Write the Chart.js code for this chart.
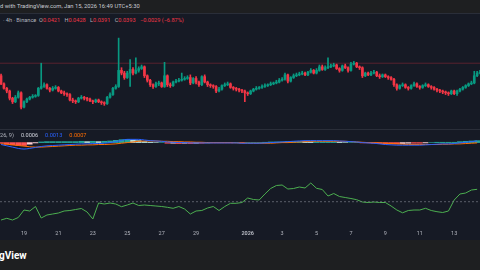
<!DOCTYPE html>
<html>
<head>
<meta charset="utf-8">
<script src="https://cdn.jsdelivr.net/npm/chart.js@4.4.1/dist/chart.umd.min.js"></script>
<style>
	html, body { margin: 0; padding: 0; }
	body { width: 480px; height: 270px; overflow: hidden; background: #161a25; position: relative; font-family: Roboto, "Noto Sans", sans-serif; }
	.abs { position: absolute; left: 0; white-space: nowrap; }
	#topbar { top: 0; width: 480px; height: 13px; background: #1e1f21; color: #c9cbd1; font-size: 5.8px; line-height: 13px; }
	.sep { position: absolute; left: 0; width: 480px; height: 1px; background: #2a2e39; }
	#legend { top: 15px; left: 3px; font-size: 5.6px; line-height: 11px; color: #b2b5be; }
	#legend .r { color: #f23645; margin-right: 3px; }
	#macdLegend { top: 130px; font-size: 5.6px; line-height: 10px; color: #b2b5be; }
	#macdLegend span { margin-left: 7px; }
	#bottombar { top: 240px; width: 480px; height: 30px; background: #1e1f21; }
	#logo { top: 249px; left: -1px; color: #ffffff; font-weight: bold; font-size: 10px; line-height: 13px; }
	canvas { position: absolute; left: 0; }
</style>
</head>
<body>
<div id="topbar" class="abs">d with TradingView.com, Jan 15, 2026 16:49 UTC+5:30</div>
<div class="sep" style="top:13px"></div>
<div id="legend" class="abs">· 4h · Binance &nbsp;O<span class="r">0.0421</span> H<span class="r">0.0428</span> L<span class="r">0.0391</span> C<span class="r">0.0393</span> <span class="r">−0.0029 (−6.87%)</span></div>
<canvas id="candles" width="480" height="116" style="top:13px"></canvas>
<div class="sep" style="top:129px"></div>
<canvas id="macd" width="480" height="34" style="top:129px"></canvas>
<div id="macdLegend" class="abs">26, 9)<span style="color:#d1d4dc">0.0006</span><span style="color:#2962ff">0.0013</span><span style="color:#ff6d00">0.0007</span></div>
<canvas id="rsi" width="480" height="77" style="top:163px"></canvas>
<div id="bottombar" class="abs"></div>
<div id="logo" class="abs">gView</div>
<script>
// 4h candles, index 0 = Dec 17 16:00, one step = one candle
const firstOpen = 0.0379;
const closes = [
	0.0370,0.0365,0.0362,0.0354,0.0350,0.0355,0.0360,0.0344,0.0350,0.0353,
	0.0355,0.0356,0.0357,0.0365,0.0367,0.0369,0.0365,0.0363,0.0365,0.0366,
	0.0362,0.0360,0.0359,0.0358,0.0352,0.0351,0.0350,0.0354,0.0355,0.0354,
	0.0353,0.0351,0.0350,0.0352,0.0350,0.0349,0.0348,0.0355,0.0358,0.0365,
	0.0367,0.0385,0.0382,0.0377,0.0382,0.0386,0.0382,0.0385,0.0387,0.0389,
	0.0379,0.0374,0.0369,0.0367,0.0370,0.0371,0.0367,0.0379,0.0369,0.0368,
	0.0372,0.0373,0.0374,0.0375,0.0376,0.0377,0.0371,0.0376,0.0372,0.0369,
	0.0378,0.0372,0.0369,0.0368,0.0367,0.0362,0.0364,0.0368,0.0369,0.0370,
	0.0366,0.0365,0.0364,0.0363,0.0362,0.0360,0.0359,0.0362,0.0364,0.0365,
	0.0366,0.0367,0.0368,0.0369,0.0370,0.0371,0.0372,0.0374,0.0375,0.0380,
	0.0373,0.0377,0.0379,0.0380,0.0381,0.0382,0.0380,0.0383,0.0385,0.0382,
	0.0385,0.0389,0.0386,0.0388,0.0389,0.0390,0.0391,0.0387,0.0385,0.0390,
	0.0388,0.0385,0.0392,0.0393,0.0389,0.0388,0.0379,0.0382,0.0380,0.0382,
	0.0383,0.0379,0.0378,0.0380,0.0378,0.0377,0.0375,0.0369,0.0365,0.0368,
	0.0369,0.0366,0.0365,0.0368,0.0370,0.0367,0.0366,0.0368,0.0369,0.0367,
	0.0366,0.0364,0.0363,0.0362,0.0361,0.0360,0.0359,0.0362,0.0359,0.0362,
	0.0364,0.0366,0.0368,0.0370,0.0371,0.0379,0.0382,0.0383
];
const highs = [
	0.0381,0.0371,0.0366,0.0363,0.0355,0.0357,0.0362,0.0361,0.0351,0.0354,
	0.0356,0.0358,0.0358,0.0366,0.0393,0.0371,0.0370,0.0366,0.0367,0.0368,
	0.0367,0.0363,0.0362,0.0360,0.0359,0.0354,0.0352,0.0355,0.0357,0.0356,
	0.0355,0.0354,0.0352,0.0353,0.0353,0.0351,0.0350,0.0356,0.0360,0.0366,
	0.0369,0.0421,0.0388,0.0384,0.0384,0.0397,0.0388,0.0399,0.0389,0.0391,
	0.0390,0.0380,0.0375,0.0370,0.0372,0.0373,0.0372,0.0394,0.0380,0.0371,
	0.0373,0.0375,0.0376,0.0382,0.0378,0.0379,0.0380,0.0377,0.0378,0.0373,
	0.0379,0.0380,0.0373,0.0370,0.0369,0.0368,0.0366,0.0369,0.0371,0.0372,
	0.0371,0.0367,0.0366,0.0365,0.0364,0.0363,0.0361,0.0363,0.0365,0.0367,
	0.0367,0.0369,0.0370,0.0370,0.0372,0.0372,0.0374,0.0376,0.0377,0.0382,
	0.0381,0.0378,0.0381,0.0382,0.0383,0.0384,0.0383,0.0384,0.0387,0.0386,
	0.0387,0.0391,0.0391,0.0390,0.0399,0.0392,0.0393,0.0392,0.0388,0.0391,
	0.0392,0.0389,0.0394,0.0395,0.0394,0.0390,0.0389,0.0383,0.0383,0.0384,
	0.0385,0.0384,0.0381,0.0381,0.0381,0.0379,0.0378,0.0376,0.0370,0.0369,
	0.0371,0.0370,0.0367,0.0369,0.0372,0.0371,0.0368,0.0369,0.0371,0.0370,
	0.0368,0.0367,0.0365,0.0364,0.0363,0.0362,0.0361,0.0363,0.0363,0.0363,
	0.0365,0.0367,0.0369,0.0371,0.0373,0.0384,0.0384,0.0385
];
const lows = [
	0.0369,0.0364,0.0360,0.0352,0.0348,0.0349,0.0354,0.0342,0.0343,0.0349,
	0.0352,0.0354,0.0355,0.0356,0.0364,0.0366,0.0364,0.0361,0.0362,0.0364,
	0.0361,0.0359,0.0357,0.0356,0.0351,0.0349,0.0348,0.0349,0.0353,0.0352,
	0.0351,0.0350,0.0348,0.0349,0.0349,0.0347,0.0346,0.0347,0.0354,0.0357,
	0.0364,0.0366,0.0380,0.0375,0.0376,0.0367,0.0380,0.0381,0.0383,0.0386,
	0.0377,0.0372,0.0367,0.0365,0.0366,0.0368,0.0366,0.0366,0.0367,0.0366,
	0.0367,0.0371,0.0372,0.0373,0.0374,0.0375,0.0369,0.0370,0.0370,0.0367,
	0.0368,0.0371,0.0367,0.0366,0.0365,0.0360,0.0361,0.0363,0.0367,0.0368,
	0.0365,0.0363,0.0362,0.0361,0.0360,0.0350,0.0357,0.0358,0.0361,0.0363,
	0.0364,0.0365,0.0366,0.0367,0.0368,0.0369,0.0370,0.0371,0.0373,0.0374,
	0.0371,0.0372,0.0376,0.0378,0.0379,0.0380,0.0379,0.0379,0.0382,0.0381,
	0.0381,0.0384,0.0385,0.0385,0.0387,0.0388,0.0389,0.0386,0.0383,0.0384,
	0.0387,0.0383,0.0384,0.0391,0.0388,0.0386,0.0377,0.0378,0.0379,0.0379,
	0.0381,0.0378,0.0376,0.0377,0.0377,0.0375,0.0374,0.0367,0.0363,0.0364,
	0.0367,0.0365,0.0363,0.0364,0.0367,0.0366,0.0364,0.0365,0.0367,0.0366,
	0.0364,0.0363,0.0361,0.0360,0.0359,0.0358,0.0357,0.0358,0.0358,0.0357,
	0.0361,0.0363,0.0365,0.0367,0.0369,0.0370,0.0378,0.0381
];
const lastPrice = 0.0393;

// indicators, read every 2nd candle
const STEP = 2;
const macdLine = [
	-0.0003,-0.0005,-0.0007,-0.0009,-0.0010,-0.0009,-0.00075,-0.0006,-0.0005,-0.00045,
	-0.0004,-0.00035,-0.0003,-0.00025,-0.0002,-0.0002,-0.00015,-0.00015,-0.0001,0,
	0.00015,0.00035,0.0005,0.0005,0.0005,0.0004,0.0003,0.00025,0.0002,0.0001,
	0.00005,0,0,-0.00005,-0.00005,-0.00005,-0.00005,-0.00005,-0.00005,-0.00005,
	-0.00005,-0.00005,-0.0001,-0.0001,-0.0001,-0.0001,-0.00005,0,0.00005,0.0001,
	0.00015,0.0002,0.00025,0.0003,0.0003,0.0003,0.0003,0.0003,0.0003,0.00025,
	0.0002,0.00015,0.0001,0,-0.00005,-0.0001,-0.0002,-0.0003,-0.00035,-0.0004,
	-0.0004,-0.0004,-0.0004,-0.0004,-0.00035,-0.0003,-0.00025,-0.0002,-0.0002,-0.00015,
	-0.00005,0.00005,0.00015,0.00025
];
const signalLine = [
	-0.0002,-0.00025,-0.00035,-0.00045,-0.00055,-0.00065,-0.0007,-0.0007,-0.00065,-0.0006,
	-0.00055,-0.0005,-0.00045,-0.0004,-0.0004,-0.00035,-0.00035,-0.0003,-0.0003,-0.00025,
	-0.0002,-0.0001,0,0.0001,0.0002,0.00025,0.00025,0.00025,0.0002,0.0002,
	0.00015,0.00015,0.0001,0.0001,0.00005,0.00005,0,0,0,0,
	0,-0.00005,-0.00005,-0.0001,-0.0001,-0.0001,-0.0001,-0.0001,-0.00005,0,
	0,0.00005,0.0001,0.00015,0.0002,0.0002,0.0002,0.0002,0.0002,0.0002,
	0.0002,0.00015,0.0001,0.00005,0,0,-0.00005,-0.0001,-0.00015,-0.0002,
	-0.00025,-0.0003,-0.0003,-0.0003,-0.0003,-0.0003,-0.0003,-0.00025,-0.00025,-0.0002,
	-0.0002,-0.00015,-0.0001,-0.00005
];
const rsiLine = [
	31.7,33.4,31.7,34.2,41.7,40.7,45.2,33.7,36.7,37.7,
	38.7,40.7,41.2,42.2,43.2,39.7,32.7,48.7,47.7,48.7,
	47.7,45.0,46.7,48.7,46.2,46.7,46.2,45.7,45.2,44.4,
	43.4,45.2,42.7,37.7,40.7,41.2,43.7,45.2,41.2,45.2,
	48.4,48.4,49.2,53.7,52.2,51.7,57.7,63.2,66.2,66.7,
	62.7,63.2,64.7,63.7,68.7,63.4,62.2,55.7,58.2,55.2,
	54.2,53.2,52.0,49.7,49.2,49.7,49.2,49.2,45.7,41.7,
	38.9,41.2,41.7,41.7,43.4,41.2,40.0,39.2,40.7,51.7,
	57.7,58.7,61.7,62.4
];
const rsiMid = 50;

const tickIdx = [8, 20, 32, 44, 56, 68, 86, 98, 110, 122, 134, 146, 158];
const tickLabels = ['19', '21', '23', '25', '27', '29', '2026', '3', '5', '7', '9', '11', '13'];

const X_MIN = -0.37, X_MAX = 167.0;
const UP = '#089981', DOWN = '#f23645';

function xAxis(show) {
	return {
		type: 'linear', min: X_MIN, max: X_MAX, offset: false, bounds: 'data',
		display: show,
		grid: { display: false, drawTicks: false },
		border: { display: false },
		afterBuildTicks: s => { s.ticks = tickIdx.map(v => ({ value: v })); },
		afterFit: s => { s.height = 12; },
		ticks: {
			autoSkip: false, maxRotation: 0, padding: 2, color: '#b2b5be',
			font: ctx => ({ family: 'Roboto', size: 5.5, weight: tickLabels[ctx.index] === '2026' ? 'bold' : 'normal' }),
			callback: (v, i) => tickLabels[i]
		}
	};
}

function baseOptions(yMin, yMax, showX) {
	return {
		responsive: false, animation: false, events: [],
		layout: { padding: 0 },
		plugins: { legend: { display: false }, tooltip: { enabled: false } },
		scales: { x: xAxis(showX), y: { display: false, min: yMin, max: yMax } }
	};
}

// candles
const opens = closes.map((c, i) => i === 0 ? firstOpen : closes[i - 1]);
const candleColors = closes.map((c, i) => c >= opens[i] ? UP : DOWN);
const bodies = closes.map((c, i) => ({ x: i, y: [opens[i], c] }));
const wicks = closes.map((c, i) => ({ x: i, y: [lows[i], highs[i]] }));

new Chart(document.getElementById('candles'), {
	type: 'bar',
	data: {
		datasets: [
			{ type: 'line', data: [{ x: X_MIN, y: lastPrice }, { x: X_MAX, y: lastPrice }],
			  borderColor: 'rgba(242,54,69,0.3)', borderWidth: 1, pointRadius: 0, order: 3 },
			{ data: wicks, backgroundColor: candleColors, barThickness: 1, grouped: false, order: 2 },
			{ data: bodies, backgroundColor: candleColors, barThickness: 2, grouped: false, order: 1 }
		]
	},
	options: baseOptions(0.0333, 0.0449, false)
});

// macd
const hist = macdLine.map((m, k) => m - signalLine[k]);
const histColors = hist.map((h, k) => {
	const prev = k ? hist[k - 1] : h;
	if (h >= 0) return h >= prev ? '#26a69a' : '#b2dfdb';
	return h <= prev ? '#ff5252' : '#ffcdd2';
});

new Chart(document.getElementById('macd'), {
	type: 'bar',
	data: {
		datasets: [
			{ data: hist.map((h, k) => ({ x: k * STEP, y: h })), backgroundColor: histColors, barThickness: 5, grouped: false, order: 3 },
			{ type: 'line', data: macdLine.map((v, k) => ({ x: k * STEP, y: v })), borderColor: '#2962ff',
			  borderWidth: 1, pointRadius: 0, cubicInterpolationMode: 'monotone', order: 1 },
			{ type: 'line', data: signalLine.map((v, k) => ({ x: k * STEP, y: v })), borderColor: '#ff6d00',
			  borderWidth: 1, pointRadius: 0, cubicInterpolationMode: 'monotone', order: 2 }
		]
	},
	options: baseOptions(-0.0013, 0.0021, false)
});

// rsi + time axis
new Chart(document.getElementById('rsi'), {
	type: 'line',
	data: {
		datasets: [
			{ data: [{ x: X_MIN, y: rsiMid }, { x: X_MAX, y: rsiMid }], borderColor: 'rgba(120,123,134,0.7)',
			  borderWidth: 1, borderDash: [2, 2], pointRadius: 0 },
			{ data: rsiLine.map((v, k) => ({ x: k * STEP, y: v })), borderColor: '#4caf50',
			  borderWidth: 1, pointRadius: 0, tension: 0 }
		]
	},
	options: baseOptions(23.7, 88.7, true)
});
</script>
</body>
</html>
